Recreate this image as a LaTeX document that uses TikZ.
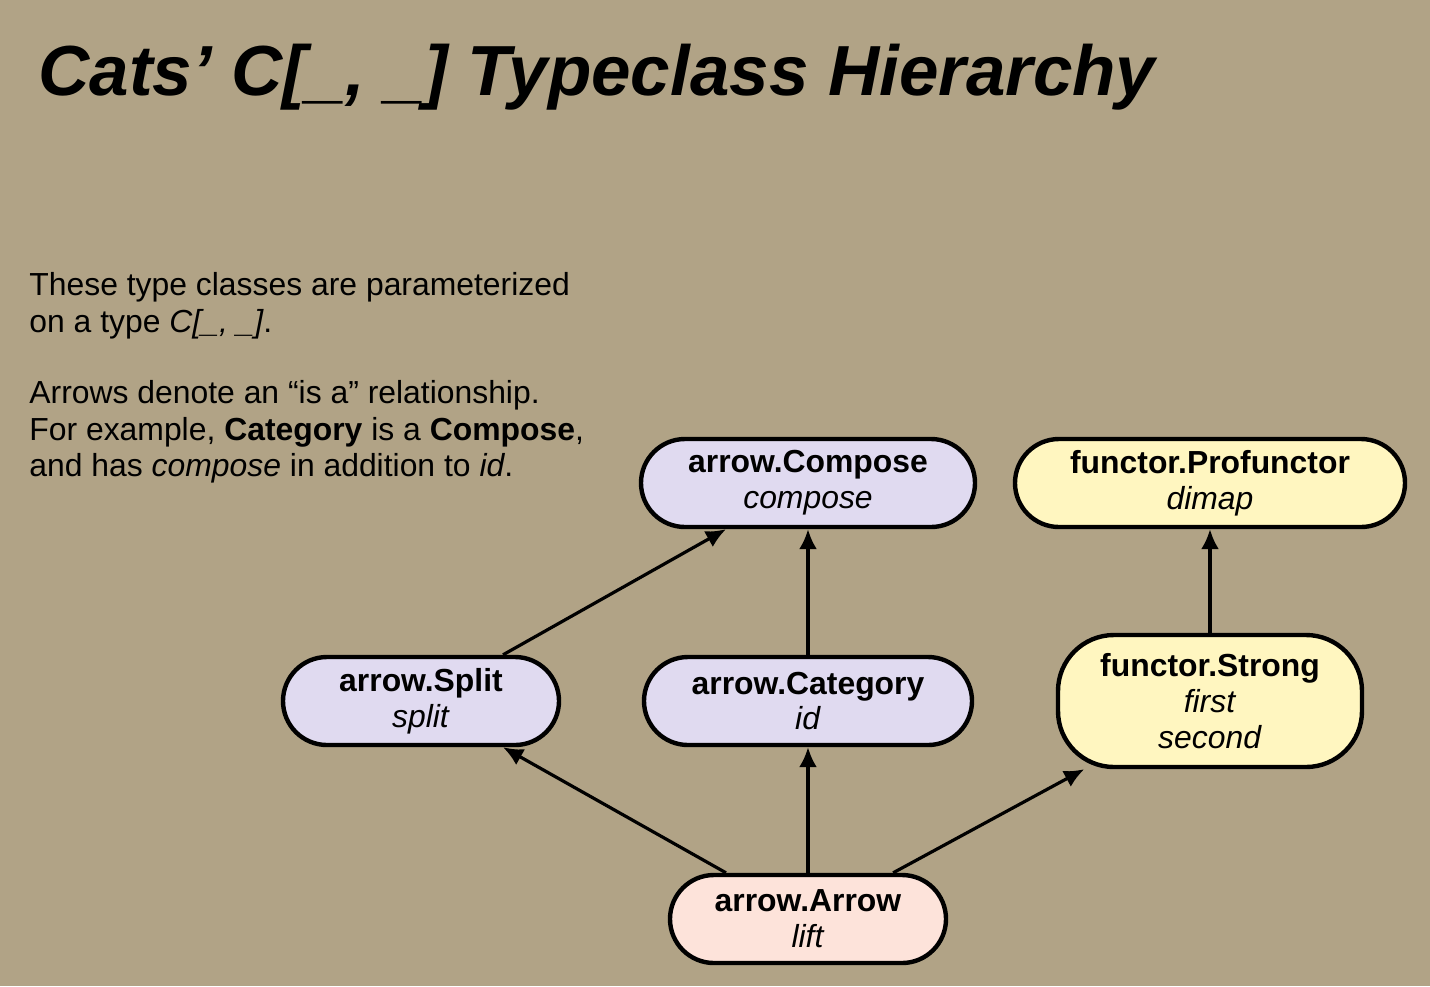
\documentclass[tikz,border=0pt]{standalone}
\usepackage{fontspec}
\setmainfont{Liberation Sans}
\usetikzlibrary{arrows.meta}
\definecolor{bg}{HTML}{B1A386}
\definecolor{lav}{HTML}{E0DAF0}
\definecolor{yel}{HTML}{FFF6C0}
\definecolor{pnk}{HTML}{FDE3DA}
\begin{document}
\begin{tikzpicture}[x=0.5bp,y=-0.5bp,
  cls/.style={draw=black,line width=2.2bp,rounded corners=22bp,align=center,inner sep=0pt,font=\fontsize{16}{18}\selectfont},
  isa/.style={line width=1.6bp,-{Latex[length=10bp,width=9bp]}}]
\fill[bg] (0,0) rectangle (1430,986);
\useasboundingbox (0,0) rectangle (1430,986);
\node[anchor=west,font=\fontsize{35.6}{40}\selectfont\bfseries\itshape,inner sep=0pt] (title) at (38,77) {Cats’ C[\_, \_] Typeclass Hierarchy};
\node[anchor=north west,align=left,inner sep=0pt,font=\fontsize{16}{18.5}\selectfont] (desc) at (29,272) {These type classes are parameterized\\on a type \textit{C[\_, \_]}.\\[17bp]Arrows denote an “is a” relationship.\\For example, \textbf{Category} is a \textbf{Compose},\\and has \textit{compose} in addition to \textit{id}.};
\node[cls,fill=lav,minimum width=167bp,minimum height=44bp] (compose) at (808,483) {\textbf{arrow.Compose}\\\textit{compose}};
\node[cls,fill=yel,minimum width=195bp,minimum height=44bp] (prof) at (1210,483) {\textbf{functor.Profunctor}\\\textit{dimap}};
\node[cls,fill=lav,minimum width=138bp,minimum height=44bp] (split) at (421,701) {\textbf{arrow.Split}\\\textit{split}};
\node[cls,fill=lav,minimum width=164bp,minimum height=44bp] (cat) at (808,701) {\textbf{arrow.Category}\\\textit{id}};
\node[cls,fill=yel,minimum width=152bp,minimum height=66bp,rounded corners=28bp] (strong) at (1210,701) {\textbf{functor.Strong}\\\textit{first}\\\textit{second}};
\node[cls,fill=pnk,minimum width=138bp,minimum height=44bp] (arrow) at (808,919) {\textbf{arrow.Arrow}\\\textit{lift}};
\draw[isa] (split) -- (compose);
\draw[isa] (cat) -- (compose);
\draw[isa] (strong) -- (prof);
\draw[isa] (arrow) -- (split);
\draw[isa] (arrow) -- (cat);
\draw[isa] (arrow) -- (strong);
\end{tikzpicture}
\end{document}
